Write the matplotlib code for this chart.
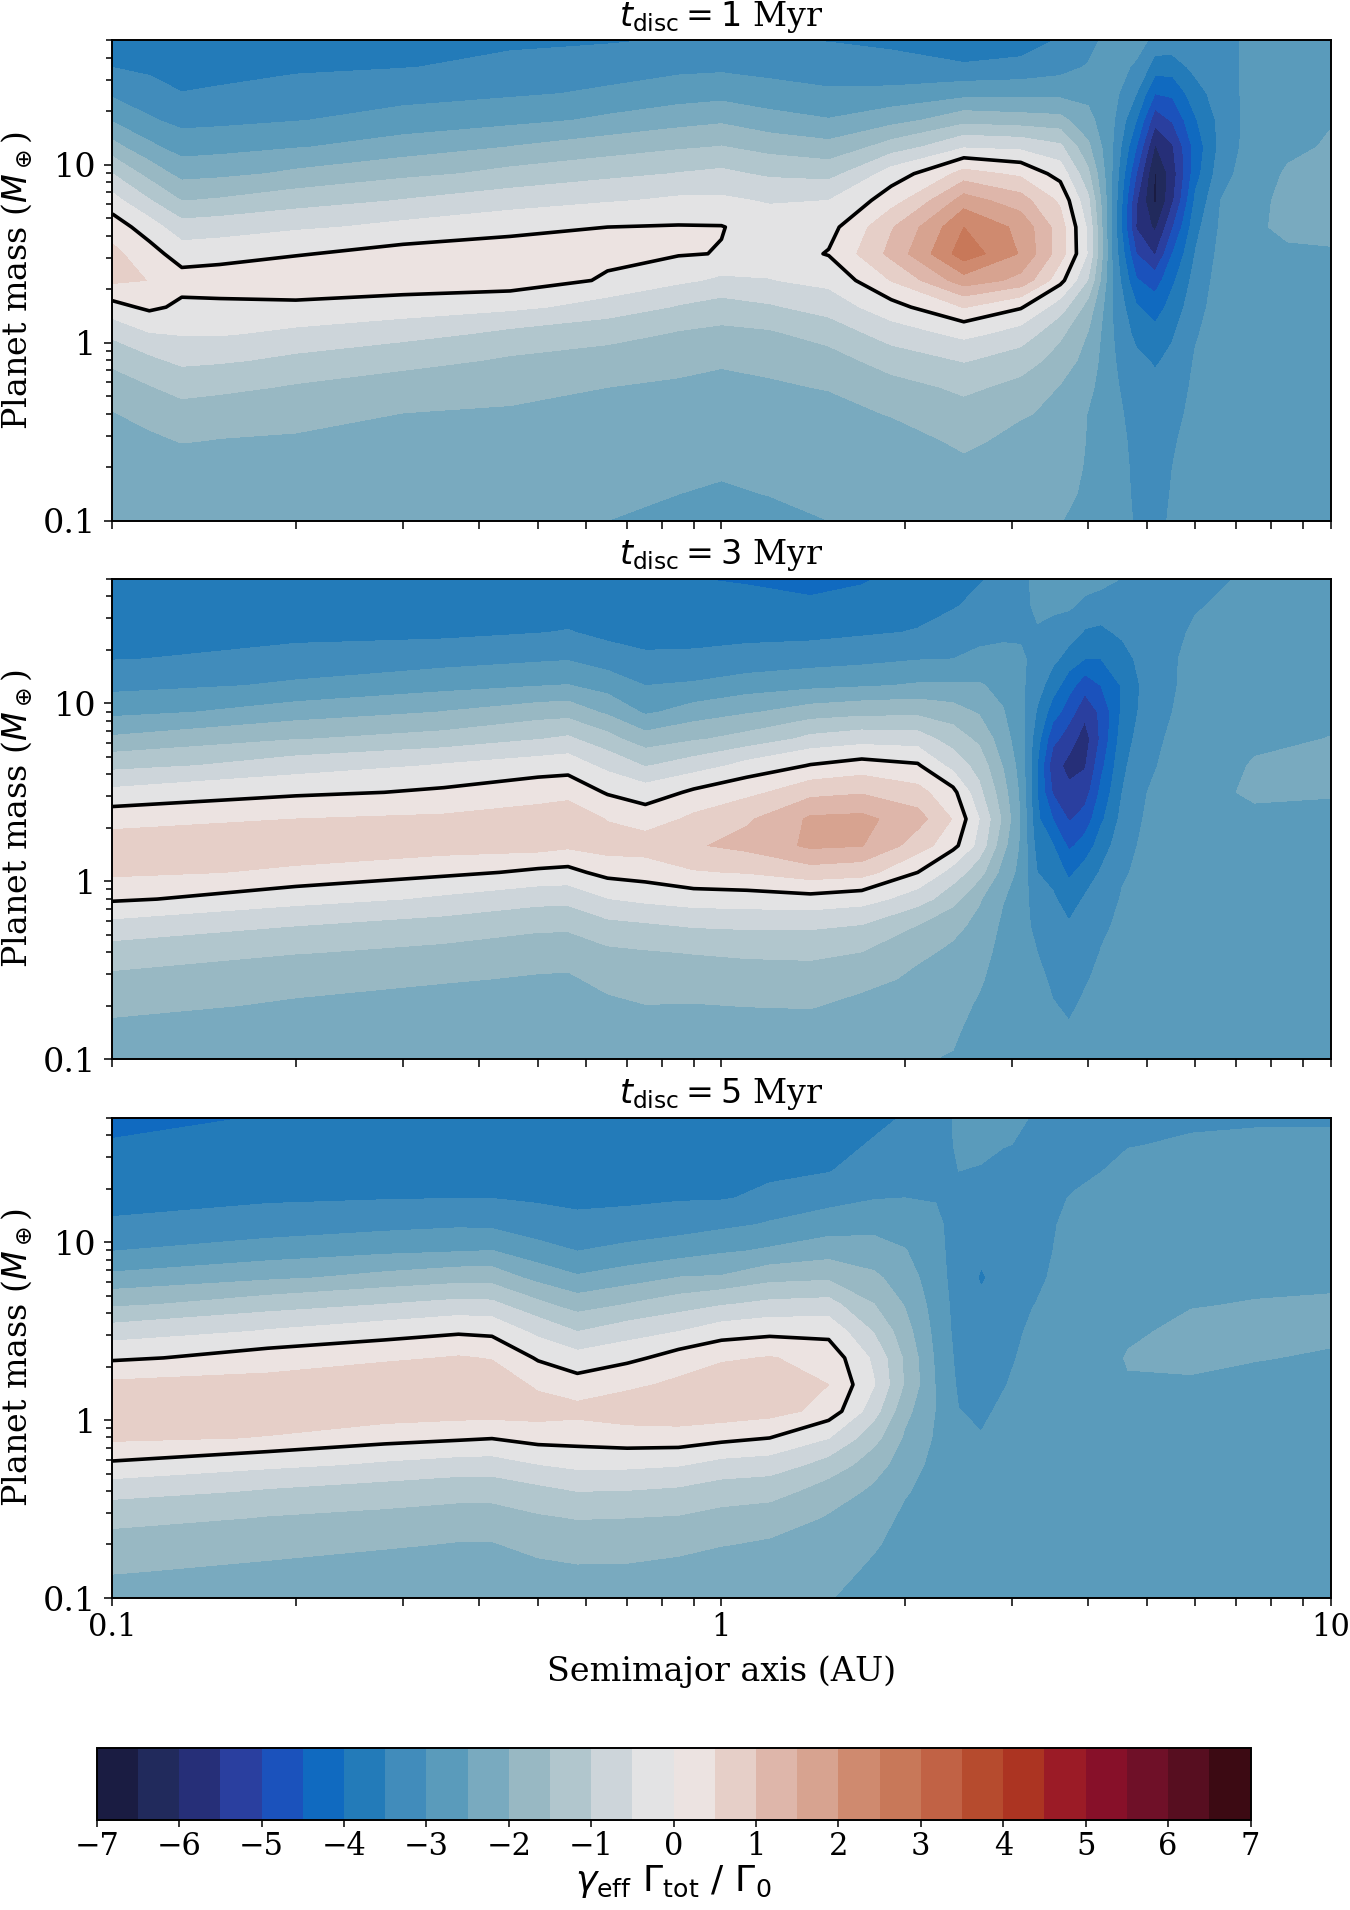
import numpy as np
import matplotlib
matplotlib.use('Agg')
import matplotlib.pyplot as plt
from matplotlib.colors import ListedColormap
from matplotlib.ticker import NullFormatter

plt.rcParams['font.family'] = ['DejaVu Serif']
plt.rcParams['mathtext.fontset'] = 'dejavusans'

titles = ['$t_\\mathrm{disc} = 1$ Myr', '$t_\\mathrm{disc} = 3$ Myr', '$t_\\mathrm{disc} = 5$ Myr']
band_colours = ['#1a1c42', '#212a5c', '#262f78', '#2a3f9f', '#1b52bc', '#106ac0', '#237bb9',
                '#418cbb', '#5a9bbb', '#79aabf', '#98b8c3', '#b1c6cd', '#cdd5da', '#e3e3e4',
                '#ece3e1', '#e6cfc8', '#deb6aa', '#d7a390', '#cf8a6f', '#c87859', '#c16245',
                '#b64b2e', '#ac3422', '#9b1b26', '#871029', '#6f1028', '#570e20', '#3c0a13']
levels = np.arange(-7, 7.5, 0.5)
cbar_ticks = [-7, -6, -5, -4, -3, -2, -1, 0, 1, 2, 3, 4, 5, 6, 7]

# planet mass rows, same for all panels
mass = [0.1, 0.141, 0.2, 0.282, 0.398, 0.562, 0.794, 1.122, 1.585, 2.239, 3.162, 4.467,
        6.31, 8.913, 12.59, 17.78, 25.12, 35.48, 50.0]

# disc 1 Myr, each line is one semimajor axis, low mass to high mass
a1 = [0.1, 0.115, 0.13, 0.15, 0.2, 0.3, 0.45, 0.65, 0.85, 1.0, 1.2, 1.5, 1.9, 2.5, 3.1, 3.6,
      4.0, 4.4, 4.8, 5.15, 5.5, 6.0, 6.6, 7.4, 8.5, 10.0]
z1 = [
    [-2.35, -2.28, -2.2, -2.12, -2.03, -1.73, -1.39, -.89, -.16, .6, .62, .27, -.33, -1.0, -1.83, -2.55, -3.09, -3.51, -3.7],
    [-2.4, -2.33, -2.25, -2.1, -1.82, -1.53, -1.11, -.53, .1, .49, .2, -.27, -.97, -1.69, -2.39, -2.94, -3.32, -3.6, -3.8],
    [-2.4, -2.35, -2.25, -1.97, -1.68, -1.34, -.89, -.47, -.1, .2, -.25, -.81, -1.52, -2.18, -2.73, -3.15, -3.49, -3.68, -3.85],
    [-2.42, -2.33, -2.2, -2.02, -1.73, -1.4, -.94, -.46, -.1, .25, -.2, -.75, -1.45, -2.12, -2.68, -3.12, -3.45, -3.64, -3.8],
    [-2.39, -2.28, -2.17, -2.05, -1.85, -1.55, -1.12, -.62, -.09, .3, -.03, -.58, -1.24, -1.91, -2.53, -3.02, -3.34, -3.57, -3.72],
    [-2.47, -2.35, -2.24, -2.12, -2.01, -1.72, -1.35, -.83, -.22, .3, .17, -.37, -.98, -1.63, -2.28, -2.81, -3.19, -3.52, -3.68],
    [-2.47, -2.37, -2.26, -2.16, -2.05, -1.87, -1.57, -1.13, -.39, .3, .22, -.14, -.75, -1.36, -1.99, -2.65, -3.07, -3.37, -3.6],
    [-2.5, -2.39, -2.28, -2.2, -2.1, -2.0, -1.71, -1.33, -.72, -.07, .15, 0.0, -.55, -1.14, -1.75, -2.4, -2.92, -3.24, -3.55],
    [-2.6, -2.5, -2.39, -2.28, -2.17, -2.06, -1.87, -1.55, -1.05, -.4, .04, .03, -.42, -.98, -1.57, -2.2, -2.75, -3.13, -3.45],
    [-2.66, -2.55, -2.44, -2.32, -2.21, -2.1, -1.95, -1.63, -1.2, -.6, -.02, .02, -.42, -.9, -1.48, -2.09, -2.69, -3.1, -3.3],
    [-2.6, -2.49, -2.38, -2.27, -2.17, -2.06, -1.87, -1.57, -1.06, -.52, -.25, -.25, -.55, -1.09, -1.69, -2.33, -2.8, -3.19, -3.5],
    [-2.5, -2.42, -2.34, -2.25, -2.16, -1.97, -1.7, -1.3, -.79, -.35, .03, -.17, -.5, -1.18, -1.85, -2.47, -2.93, -3.25, -3.52],
    [-2.45, -2.4, -2.3, -2.2, -1.97, -1.68, -1.27, -.77, -.17, .52, 1.15, .95, .26, -.27, -1.28, -2.19, -2.88, -3.35, -3.6],
    [-2.45, -2.32, -2.1, -1.9, -1.67, -1.4, -.97, -.36, .52, 1.8, 2.8, 2.5, 1.72, .68, -.55, -1.68, -2.68, -3.45, -3.8],
    [-2.35, -2.3, -2.23, -2.15, -1.95, -1.65, -1.25, -.72, .05, 1.35, 1.95, 1.85, 1.2, .39, -.63, -1.78, -2.66, -3.37, -3.75],
    [-2.49, -2.4, -2.3, -2.22, -2.12, -2.03, -1.72, -1.4, -.77, .17, .72, .72, .4, -.2, -.9, -1.85, -2.65, -3.2, -3.45],
    [-2.6, -2.57, -2.55, -2.53, -2.52, -2.37, -2.2, -2.03, -1.7, -1.03, -.55, -.6, -.9, -1.4, -1.9, -2.35, -2.65, -2.95, -3.3],
    [-2.75, -2.8, -2.83, -2.86, -2.9, -2.93, -2.96, -3.0, -3.05, -3.1, -3.15, -3.2, -3.15, -3.1, -3.03, -2.95, -2.85, -2.75, -2.6],
    [-3.05, -3.07, -3.08, -3.1, -3.13, -3.22, -3.38, -3.65, -3.95, -4.45, -5.0, -5.55, -5.45, -5.0, -4.5, -4.0, -3.5, -3.1, -2.7],
    [-3.1, -3.15, -3.2, -3.25, -3.3, -3.4, -3.55, -3.85, -4.25, -4.75, -5.55, -6.1, -6.6, -6.55, -6.05, -5.3, -4.5, -3.7, -3.2],
    [-2.95, -2.97, -3.0, -3.05, -3.15, -3.25, -3.4, -3.55, -3.8, -4.1, -4.5, -5.05, -5.6, -5.75, -5.55, -4.95, -4.4, -3.75, -3.15],
    [-2.76, -2.78, -2.8, -2.82, -2.85, -2.9, -2.95, -3.05, -3.18, -3.3, -3.48, -3.65, -3.9, -4.2, -4.3, -4.05, -3.7, -3.35, -3.05],
    [-2.58, -2.6, -2.62, -2.64, -2.66, -2.68, -2.7, -2.72, -2.76, -2.8, -2.85, -2.93, -3.0, -3.2, -3.35, -3.35, -3.25, -3.2, -3.15],
    [-2.55, -2.56, -2.57, -2.58, -2.58, -2.58, -2.58, -2.58, -2.6, -2.6, -2.6, -2.63, -2.68, -2.72, -2.78, -2.82, -2.85, -2.88, -2.9],
    [-2.65, -2.65, -2.65, -2.65, -2.65, -2.65, -2.65, -2.65, -2.65, -2.67, -2.6, -2.35, -2.35, -2.45, -2.6, -2.7, -2.75, -2.78, -2.8],
    [-2.66, -2.66, -2.66, -2.66, -2.66, -2.66, -2.66, -2.66, -2.66, -2.65, -2.55, -2.35, -2.3, -2.35, -2.45, -2.53, -2.65, -2.7, -2.75],
]

# disc 3 Myr
a2 = [0.1, 0.2, 0.35, 0.5, 0.56, 0.65, 0.75, 0.9, 1.1, 1.4, 1.7, 2.1, 2.4, 2.65, 2.9, 3.1,
      3.3, 3.5, 3.72, 3.95, 4.2, 4.55, 5.0, 6.0, 7.5, 10.0]
z2 = [
    [-2.3, -2.12, -1.89, -1.61, -1.22, -.67, .07, .6, .78, .28, -.38, -1.15, -1.92, -2.63, -3.15, -3.52, -3.6, -3.65, -3.75],
    [-2.4, -2.28, -2.07, -1.8, -1.48, -1.0, -.31, .41, .8, .5, -.09, -.75, -1.52, -2.27, -2.92, -3.36, -3.62, -3.75, -3.85],
    [-2.45, -2.35, -2.18, -1.96, -1.63, -1.2, -.6, .12, .75, .58, .08, -.45, -1.32, -1.98, -2.68, -3.2, -3.62, -3.85, -3.95],
    [-2.4, -2.27, -2.15, -2.05, -1.76, -1.4, -.83, -.1, .72, .7, .3, -.27, -1.02, -1.75, -2.52, -3.08, -3.52, -3.8, -3.95],
    [-2.42, -2.32, -2.2, -2.07, -1.77, -1.41, -.85, -.14, .6, .8, .34, -.22, -.92, -1.71, -2.48, -3.04, -3.47, -3.8, -3.95],
    [-2.4, -2.27, -2.1, -1.85, -1.6, -1.14, -.52, .17, .72, .47, -.05, -.65, -1.33, -2.09, -2.72, -3.25, -3.65, -3.85, -3.98],
    [-2.35, -2.2, -2.01, -1.77, -1.54, -1.07, -.38, .25, .72, .27, -.27, -1.03, -1.8, -2.57, -3.0, -3.4, -3.75, -3.9, -3.99],
    [-2.38, -2.22, -2.02, -1.76, -1.48, -.96, -.25, .46, .95, .6, .09, -.76, -1.56, -2.29, -2.94, -3.39, -3.72, -3.87, -3.99],
    [-2.38, -2.2, -1.99, -1.73, -1.42, -.92, -.22, .53, 1.15, .93, .36, -.33, -1.33, -2.05, -2.77, -3.33, -3.65, -3.85, -4.05],
    [-2.35, -2.2, -1.97, -1.7, -1.4, -.92, -.16, .79, 1.6, 1.58, .83, .03, -.87, -1.77, -2.63, -3.24, -3.65, -3.95, -4.1],
    [-2.49, -2.33, -2.13, -1.85, -1.51, -1.03, -.28, .7, 1.52, 1.62, .95, .2, -.72, -1.66, -2.55, -3.16, -3.57, -3.85, -4.05],
    [-2.47, -2.33, -2.2, -2.1, -1.91, -1.52, -.77, 0.0, .74, 1.2, .66, .06, -.77, -1.63, -2.45, -3.03, -3.47, -3.7, -3.8],
    [-2.53, -2.43, -2.32, -2.21, -2.09, -1.87, -1.32, -.71, .16, .47, .14, -.69, -1.23, -1.79, -2.45, -3.0, -3.27, -3.55, -3.7],
    [-2.85, -2.7, -2.57, -2.42, -2.28, -2.14, -1.95, -1.3, -.68, -.5, -.88, -1.2, -1.62, -2.05, -2.45, -2.9, -3.15, -3.35, -3.55],
    [-2.97, -2.93, -2.87, -2.8, -2.7, -2.6, -2.47, -2.2, -1.85, -1.6, -1.8, -2.03, -2.28, -2.47, -2.65, -2.87, -3.1, -3.25, -3.35],
    [-2.95, -2.92, -2.9, -2.87, -2.85, -2.82, -2.75, -2.65, -2.58, -2.55, -2.6, -2.7, -2.8, -2.85, -2.9, -2.95, -3.05, -3.08, -3.1],
    [-2.7, -2.7, -2.75, -2.85, -3.0, -3.13, -3.3, -3.5, -3.7, -3.9, -4.0, -4.0, -3.8, -3.55, -3.3, -3.1, -3.02, -2.95, -2.9],
    [-2.7, -2.8, -2.97, -3.1, -3.2, -3.3, -3.43, -3.67, -3.97, -4.5, -5.05, -5.3, -4.85, -4.25, -3.75, -3.38, -3.15, -2.9, -2.8],
    [-2.85, -2.95, -3.07, -3.17, -3.3, -3.45, -3.73, -4.1, -4.6, -5.05, -5.4, -5.65, -5.25, -4.78, -4.3, -3.7, -3.25, -2.93, -2.75],
    [-2.75, -2.83, -2.93, -3.05, -3.2, -3.3, -3.45, -3.8, -4.3, -4.8, -5.25, -5.55, -5.75, -5.35, -4.8, -4.0, -3.55, -3.1, -2.8],
    [-2.7, -2.75, -2.8, -2.88, -2.98, -3.1, -3.3, -3.45, -3.75, -4.1, -4.37, -4.65, -4.9, -4.9, -4.5, -4.0, -3.6, -3.2, -2.85],
    [-2.65, -2.67, -2.7, -2.75, -2.8, -2.88, -2.95, -3.07, -3.2, -3.35, -3.5, -3.6, -3.75, -3.9, -3.95, -3.7, -3.4, -3.15, -3.02],
    [-2.62, -2.63, -2.65, -2.68, -2.7, -2.74, -2.78, -2.82, -2.86, -2.92, -3.0, -3.08, -3.15, -3.25, -3.3, -3.25, -3.2, -3.2, -3.2],
    [-2.62, -2.62, -2.63, -2.63, -2.63, -2.63, -2.63, -2.63, -2.64, -2.65, -2.66, -2.68, -2.7, -2.75, -2.8, -2.85, -2.95, -3.03, -3.15],
    [-2.66, -2.66, -2.66, -2.66, -2.66, -2.66, -2.66, -2.66, -2.66, -2.6, -2.42, -2.47, -2.57, -2.65, -2.7, -2.75, -2.8, -2.85, -2.9],
    [-2.7, -2.7, -2.7, -2.7, -2.7, -2.7, -2.7, -2.7, -2.68, -2.62, -2.46, -2.38, -2.49, -2.6, -2.68, -2.75, -2.8, -2.84, -2.88],
]

# disc 5 Myr
a3 = [0.1, 0.18, 0.28, 0.37, 0.42, 0.5, 0.58, 0.7, 0.85, 1.0, 1.2, 1.5, 1.78, 2.0, 2.25, 2.45,
      2.67, 2.9, 3.25, 3.8, 4.65, 5.9, 7.5, 10.0]
z3 = [
    [-2.15, -1.98, -1.69, -1.35, -.82, -.08, .6, .8, .6, -.08, -.79, -1.58, -2.38, -3.0, -3.45, -3.64, -3.8, -3.97, -4.12],
    [-2.3, -2.1, -1.83, -1.53, -1.06, -.38, .47, .85, .68, .22, -.46, -1.24, -2.08, -2.78, -3.28, -3.57, -3.7, -3.84, -3.97],
    [-2.37, -2.2, -1.95, -1.63, -1.21, -.59, .2, .8, .85, .42, -.24, -.99, -1.85, -2.6, -3.16, -3.53, -3.68, -3.8, -3.92],
    [-2.42, -2.25, -2.03, -1.71, -1.31, -.71, .08, .75, .85, .54, -.08, -.85, -1.7, -2.52, -3.08, -3.51, -3.62, -3.78, -3.9],
    [-2.42, -2.25, -2.03, -1.71, -1.31, -.72, .02, .75, .8, .47, -.13, -.88, -1.71, -2.48, -3.11, -3.51, -3.62, -3.78, -3.9],
    [-2.28, -2.12, -1.86, -1.56, -1.14, -.51, .2, .72, .41, -.06, -.65, -1.38, -2.16, -2.83, -3.28, -3.57, -3.72, -3.85, -3.97],
    [-2.25, -2.07, -1.78, -1.48, -1.0, -.37, .2, .65, .2, -.33, -1.01, -1.74, -2.44, -3.0, -3.38, -3.62, -3.75, -3.88, -3.98],
    [-2.22, -2.07, -1.81, -1.5, -1.02, -.38, .28, .77, .4, -.12, -.76, -1.48, -2.25, -2.87, -3.32, -3.6, -3.73, -3.87, -3.98],
    [-2.3, -2.13, -1.88, -1.54, -1.09, -.46, .3, .8, .6, .2, -.51, -1.25, -1.98, -2.75, -3.22, -3.55, -3.7, -3.83, -3.95],
    [-2.42, -2.25, -1.98, -1.66, -1.24, -.67, .15, .8, .78, .43, -.26, -1.03, -1.95, -2.56, -3.12, -3.54, -3.65, -3.8, -3.92],
    [-2.42, -2.28, -2.07, -1.74, -1.31, -.74, 0.0, .7, .9, .53, -.15, -.88, -1.66, -2.43, -2.95, -3.39, -3.6, -3.72, -3.85],
    [-2.47, -2.33, -2.2, -2.05, -1.74, -1.2, -.49, .3, .5, .3, -.16, -.83, -1.58, -2.23, -2.76, -3.18, -3.52, -3.68, -3.8],
    [-2.75, -2.6, -2.44, -2.3, -2.1, -1.78, -1.33, -.8, -.47, -.6, -1.04, -1.49, -1.9, -2.32, -2.65, -3.03, -3.25, -3.45, -3.65],
    [-2.87, -2.8, -2.72, -2.6, -2.45, -2.27, -2.07, -1.85, -1.55, -1.58, -1.8, -2.03, -2.25, -2.47, -2.77, -3.0, -3.18, -3.32, -3.45],
    [-2.85, -2.83, -2.8, -2.77, -2.72, -2.65, -2.57, -2.52, -2.53, -2.58, -2.65, -2.72, -2.8, -2.87, -2.93, -3.02, -3.13, -3.22, -3.25],
    [-2.72, -2.73, -2.75, -2.78, -2.8, -2.85, -2.9, -2.99, -3.07, -3.13, -3.18, -3.2, -3.22, -3.2, -3.15, -3.1, -3.0, -2.93, -2.9],
    [-2.7, -2.73, -2.75, -2.8, -2.85, -2.9, -2.98, -3.07, -3.15, -3.25, -3.35, -3.4, -3.55, -3.4, -3.3, -3.2, -3.03, -2.9, -2.85],
    [-2.66, -2.68, -2.7, -2.73, -2.76, -2.8, -2.85, -2.93, -3.03, -3.13, -3.2, -3.3, -3.32, -3.3, -3.25, -3.22, -3.12, -2.98, -2.85],
    [-2.66, -2.67, -2.68, -2.7, -2.72, -2.73, -2.74, -2.75, -2.78, -2.82, -2.9, -3.01, -3.1, -3.15, -3.15, -3.13, -3.1, -3.05, -3.03],
    [-2.67, -2.67, -2.67, -2.67, -2.67, -2.67, -2.68, -2.68, -2.69, -2.7, -2.72, -2.75, -2.78, -2.82, -2.88, -2.97, -3.1, -3.15, -3.15],
    [-2.67, -2.67, -2.67, -2.67, -2.67, -2.67, -2.65, -2.6, -2.52, -2.48, -2.55, -2.62, -2.7, -2.75, -2.8, -2.85, -2.9, -3.02, -3.12],
    [-2.66, -2.66, -2.66, -2.66, -2.66, -2.66, -2.65, -2.62, -2.55, -2.4, -2.42, -2.52, -2.65, -2.72, -2.77, -2.82, -2.88, -2.95, -3.08],
    [-2.67, -2.67, -2.67, -2.67, -2.67, -2.67, -2.67, -2.65, -2.6, -2.48, -2.4, -2.48, -2.6, -2.7, -2.75, -2.8, -2.85, -2.93, -3.05],
    [-2.67, -2.67, -2.67, -2.67, -2.67, -2.67, -2.67, -2.66, -2.63, -2.55, -2.4, -2.46, -2.57, -2.68, -2.75, -2.8, -2.85, -2.93, -3.05],
]

W, H = 1350, 1910
fig = plt.figure(figsize=(W / 100, H / 100), dpi=100)
cmap = ListedColormap(band_colours)

boxes = [(112.4, 40.4, 1330.5, 520.7), (112.4, 579, 1330.5, 1059.2), (112.4, 1118, 1330.5, 1598)]
for i, (a, z) in enumerate([(a1, z1), (a2, z2), (a3, z3)]):
    x0, y0, x1, y1 = boxes[i]
    ax = fig.add_axes([x0 / W, 1 - y1 / H, (x1 - x0) / W, (y1 - y0) / H])
    vals = np.array(z).T
    cf = ax.contourf(a, mass, vals, levels=levels, cmap=cmap, vmin=-7, vmax=7)
    ax.contour(a, mass, vals, levels=[0], colors='k', linewidths=2.6)
    ax.set_xscale('log')
    ax.set_yscale('log')
    ax.set_xlim(0.1, 10)
    ax.set_ylim(0.1, 50)
    ax.set_yticks([0.1, 1, 10], ['0.1', '1', '10'])
    ax.yaxis.set_minor_formatter(NullFormatter())
    ax.set_xticks([0.1, 1, 10], ['0.1', '1', '10'])
    ax.xaxis.set_minor_formatter(NullFormatter())
    ax.tick_params(which='major', length=6, width=1.1, labelsize=22)
    ax.tick_params(axis='y', which='major', labelsize=24, pad=5.5)
    ax.tick_params(axis='x', which='major', pad=4)
    ax.tick_params(which='minor', length=4.5, width=1.1)
    ax.tick_params(axis='x', which='minor', length=6)
    if i < 2:
        ax.tick_params(axis='x', labelbottom=False)
    else:
        ax.set_xlabel('Semimajor axis (AU)', fontsize=24, labelpad=9)
    ax.set_ylabel('Planet mass ($M_\\oplus$)', fontsize=24, labelpad=6)
    ax.set_title(titles[i], fontsize=24, pad=10.5)
    for s in ax.spines.values():
        s.set_linewidth(1.4)

cax = fig.add_axes([96.8 / W, 1 - 1819.5 / H, (1250.5 - 96.8) / W, (1819.5 - 1747.5) / H])
cb = fig.colorbar(cf, cax=cax, orientation='horizontal', ticks=cbar_ticks)
cb.ax.tick_params(length=5, width=1.1, labelsize=22, pad=3)
cb.outline.set_linewidth(1.4)
cb.set_label('$\\gamma_\\mathrm{eff}\\ \\Gamma_\\mathrm{tot}\\ /\\ \\Gamma_0$', fontsize=26, labelpad=1)

fig.savefig('out.png', dpi=100)
